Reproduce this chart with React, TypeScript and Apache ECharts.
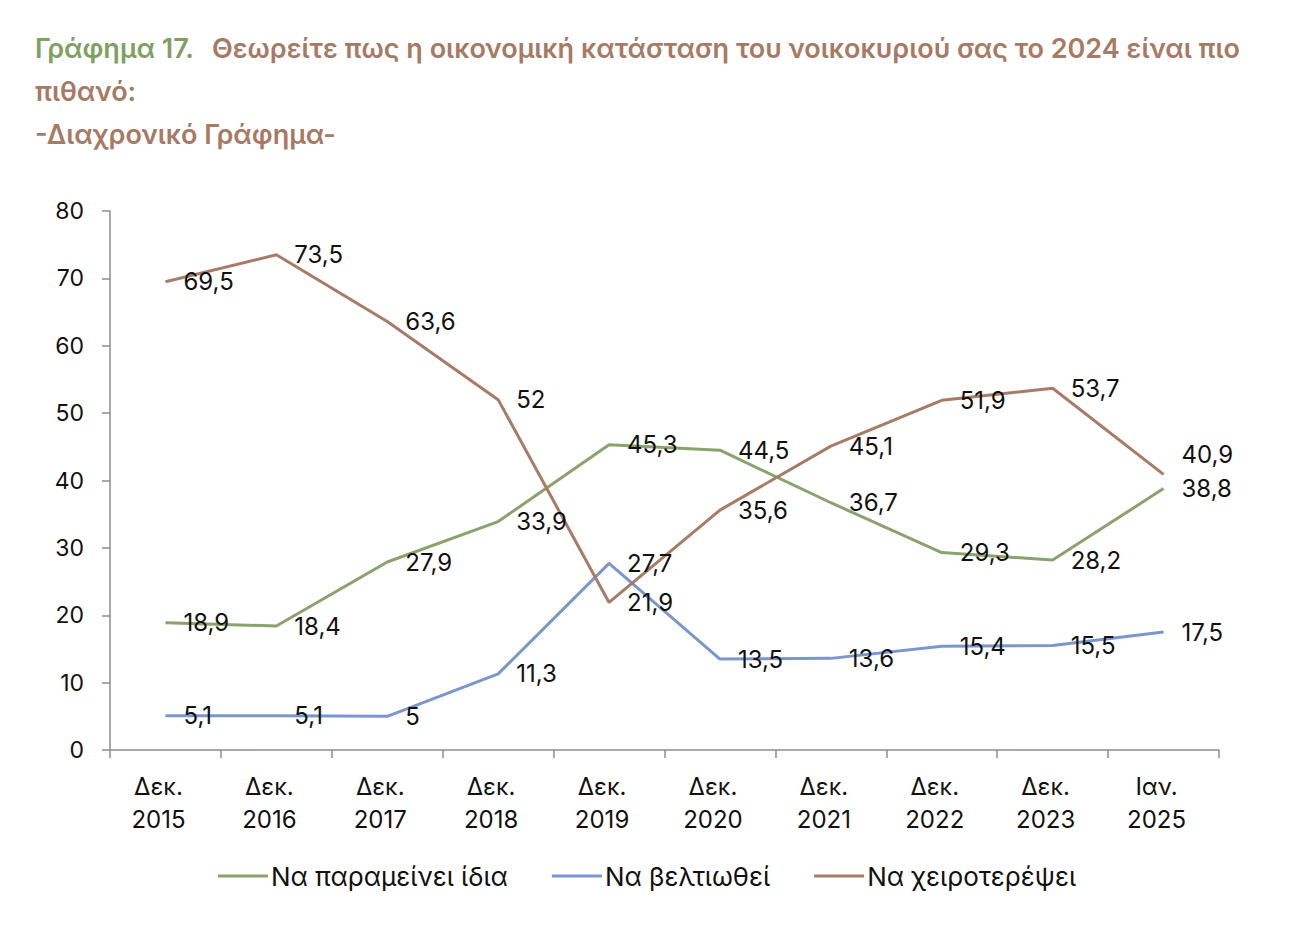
import React, { useEffect, useRef } from "react";
import * as echarts from "echarts";

const categories = [
  "Δεκ.\n2015",
  "Δεκ.\n2016",
  "Δεκ.\n2017",
  "Δεκ.\n2018",
  "Δεκ.\n2019",
  "Δεκ.\n2020",
  "Δεκ.\n2021",
  "Δεκ.\n2022",
  "Δεκ.\n2023",
  "Ιαν.\n2025",
];

const stayTheSame = [18.9, 18.4, 27.9, 33.9, 45.3, 44.5, 36.7, 29.3, 28.2, 38.8];
const improve = [5.1, 5.1, 5, 11.3, 27.7, 13.5, 13.6, 15.4, 15.5, 17.5];
const worsen = [69.5, 73.5, 63.6, 52, 21.9, 35.6, 45.1, 51.9, 53.7, 40.9];

const seriesNames = ["Να παραμείνει ίδια", "Να βελτιωθεί", "Να χειροτερέψει"];
const colors = ["#8aa36c", "#7b96cf", "#a87b66"];

const FONT = "Inter, 'Noto Sans', sans-serif";

const fmt = (v: number) => String(v).replace(".", ",");

export default function App() {
  const ref = useRef<HTMLDivElement>(null);

  useEffect(() => {
    if (!ref.current) return;
    const chart = echarts.init(ref.current, null, { renderer: "svg" });

    const makeSeries = (name: string, values: number[], color: string, lift: number[] = []) => ({
      name,
      type: "line",
      data: values.map((v, i) =>
        lift[i]
          ? { value: v, label: { offset: [0, lift[i]] } }
          : v
      ),
      symbol: "circle",
      symbolSize: 0,
      showSymbol: true,
      lineStyle: { color, width: 3 },
      itemStyle: { color },
      label: {
        show: true,
        position: "right",
        distance: 18,
        color: "#111",
        fontSize: 24,
        fontFamily: FONT,
        formatter: (p: any) => fmt(p.value),
      },
    });

    const worsenLift: number[] = [];
    worsenLift[9] = -20;

    chart.setOption({
      animation: false,
      textStyle: { fontFamily: FONT },
      title: {
        left: 30,
        top: 22,
        text:
          "{g|Γράφημα 17.}{sp| }{b|Θεωρείτε πως η οικονομική κατάσταση του νοικοκυριού σας το 2024 είναι πιο}\n{b|πιθανό:}\n{b|-Διαχρονικό Γράφημα-}",
        textStyle: {
          rich: {
            g: { color: "#7fa062", fontSize: 27, fontWeight: 600, fontFamily: FONT, lineHeight: 43 },
            sp: { fontSize: 27, width: 18, lineHeight: 43 },
            b: { color: "#a67a64", fontSize: 27, fontWeight: 600, fontFamily: FONT, lineHeight: 43 },
          },
        },
      },
      grid: { left: 110, right: 75, top: 211, bottom: 182, containLabel: false },
      legend: {
        bottom: 38,
        left: "center",
        itemWidth: 50,
        itemHeight: 3,
        itemGap: 44,
        icon: "rect",
        textStyle: { fontSize: 26, color: "#111", fontFamily: FONT, padding: [0, 0, 0, -2] },
        data: seriesNames,
      },
      xAxis: {
        type: "category",
        data: categories,
        boundaryGap: true,
        axisLine: { lineStyle: { color: "#8c8c8c", width: 1.5 } },
        axisTick: { show: true, alignWithLabel: false, length: 8, lineStyle: { color: "#8c8c8c", width: 1.5 } },
        axisLabel: {
          color: "#111",
          fontSize: 24,
          lineHeight: 33,
          margin: 20,
          padding: [0, 14, 0, 0],
          fontFamily: FONT,
        },
      },
      yAxis: {
        type: "value",
        min: 0,
        max: 80,
        interval: 10,
        splitLine: { show: false },
        axisLine: { show: true, lineStyle: { color: "#8c8c8c", width: 1.5 } },
        axisTick: { show: true, length: 8, lineStyle: { color: "#8c8c8c", width: 1.5 } },
        axisLabel: { color: "#111", fontSize: 23, margin: 26, fontFamily: FONT },
      },
      series: [
        makeSeries(seriesNames[0], stayTheSame, colors[0]),
        makeSeries(seriesNames[1], improve, colors[1]),
        makeSeries(seriesNames[2], worsen, colors[2], worsenLift),
      ],
    });

    return () => chart.dispose();
  }, []);

  return (
    <div
      ref={ref}
      style={{ position: "absolute", left: 0, top: 0, width: 1294, height: 932, background: "#fff" }}
    />
  );
}
